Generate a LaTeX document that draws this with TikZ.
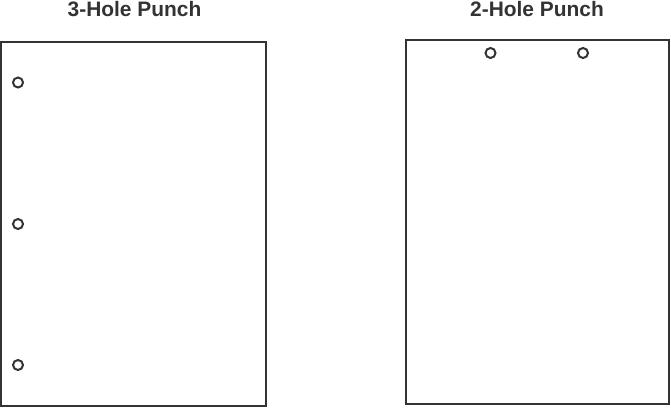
\documentclass[tikz,border=0pt]{standalone}
\usepackage{fontspec}
\setmainfont{Liberation Sans}
\definecolor{ink}{HTML}{333333}
\begin{document}
\begin{tikzpicture}[x=1bp,y=-1bp,
  sheet/.style={draw=ink,line width=2bp},
  hole/.style={draw=ink,line width=2bp,circle,minimum size=10bp,inner sep=0pt},
  title/.style={text=ink,font=\fontsize{21}{24}\selectfont\bfseries}]
\useasboundingbox (0,0) rectangle (671,407);
\node[sheet,minimum width=265bp,minimum height=364bp,inner sep=0pt] (left) at (133.5,223.5) {};
\node[sheet,minimum width=263bp,minimum height=364bp,inner sep=0pt] (right) at (537,221.5) {};
\node[title] (t1) at (134.5,9) {3-Hole Punch};
\node[title] (t2) at (537,9) {2-Hole Punch};
\node[hole] (h1) at (18,82.5) {};
\node[hole] (h2) at (18,224) {};
\node[hole] (h3) at (18,365) {};
\node[hole] (h4) at (490.5,53) {};
\node[hole] (h5) at (583,53) {};
\end{tikzpicture}
\end{document}
